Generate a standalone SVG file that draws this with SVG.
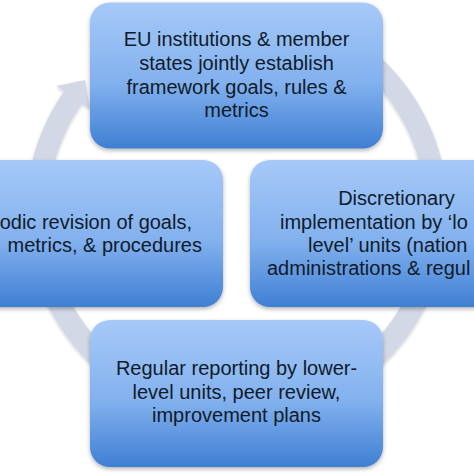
<svg xmlns="http://www.w3.org/2000/svg" width="474" height="474" viewBox="0 0 474 474">
<defs>
  <linearGradient id="boxGrad" x1="0" y1="0" x2="0" y2="1">
    <stop offset="0" stop-color="#a6c9f8"/>
    <stop offset="0.55" stop-color="#82b1ee"/>
    <stop offset="1" stop-color="#3f7fd3"/>
  </linearGradient>
  <filter id="shadow" x="-10%" y="-10%" width="120%" height="125%">
    <feDropShadow dx="0" dy="2" stdDeviation="2" flood-color="#000" flood-opacity="0.3"/>
  </filter>
  <filter id="ringShadow" x="-10%" y="-10%" width="120%" height="120%">
    <feDropShadow dx="0" dy="1.5" stdDeviation="1.5" flood-color="#000" flood-opacity="0.2"/>
  </filter>
</defs>
<style>
  .box { fill: url(#boxGrad); filter: url(#shadow); }
  .lbl { font-family: "Liberation Sans", Arial, sans-serif; font-size: 20px; fill: #0f1b2b; }
  .mid { text-anchor: middle; }
  .end { text-anchor: end; }
  .ring { fill: none; stroke: #d2d8e5; stroke-width: 22; }
  .head { fill: #d2d8e5; }
</style>
<rect width="474" height="474" fill="#ffffff"/>
<g id="connectors" filter="url(#ringShadow)">
  <path class="ring" d="M 305.4 24.1 A 200 200 0 1 1 73.4 97"/>
  <polygon class="head" points="56.5,86 85,80 90,109"/>
</g>
<g id="node-top">
  <rect class="box" x="90" y="2.5" width="293" height="146" rx="20" ry="20"/>
  <text class="lbl mid" x="236.5" y="46">EU institutions &amp; member</text>
  <text class="lbl mid" x="236.5" y="70">states jointly establish</text>
  <text class="lbl mid" x="236.5" y="94">framework goals, rules &amp;</text>
  <text class="lbl mid" x="236.5" y="117">metrics</text>
</g>
<g id="node-left">
  <rect class="box" x="-70" y="160" width="293" height="147" rx="20" ry="20"/>
  <text class="lbl end" x="192" y="229">odic revision of goals,</text>
  <text class="lbl end" x="202" y="252">metrics, &amp; procedures</text>
</g>
<g id="node-right">
  <rect class="box" x="250" y="160" width="293" height="147" rx="20" ry="20"/>
  <text class="lbl mid" x="396.5" y="205">Discretionary</text>
  <text class="lbl" x="280" y="229">implementation by ‘lo</text>
  <text class="lbl" x="308" y="252">level’ units (nation</text>
  <text class="lbl" x="267" y="275">administrations &amp; regul</text>
</g>
<g id="node-bottom">
  <rect class="box" x="90" y="320" width="293" height="147" rx="20" ry="20"/>
  <text class="lbl mid" x="236.5" y="375">Regular reporting by lower-</text>
  <text class="lbl mid" x="236.5" y="399">level units, peer review,</text>
  <text class="lbl mid" x="236.5" y="422">improvement plans</text>
</g>
</svg>
